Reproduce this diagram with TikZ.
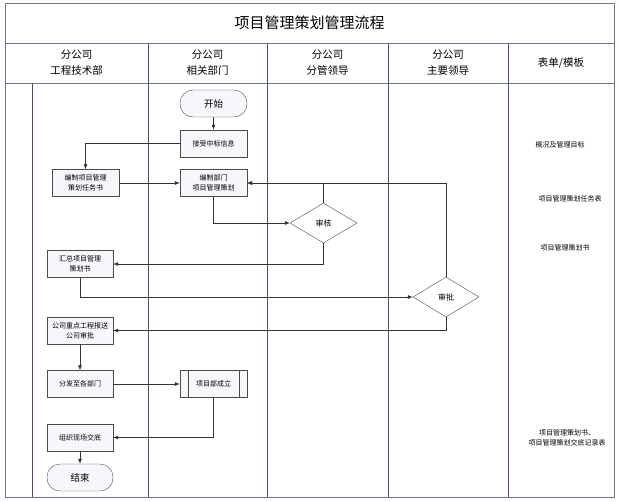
\documentclass[tikz,border=0pt]{standalone}
\usepackage{fontspec}
\setmainfont{Noto Sans CJK SC}
\usepackage{tikz}
\usetikzlibrary{arrows.meta, shapes.geometric}
\usepackage{xcolor}
\definecolor{framecol}{RGB}{110,118,150}
\definecolor{lanecol}{RGB}{70,80,120}
\definecolor{boxfill}{RGB}{246,247,251}

\begin{document}
\begin{tikzpicture}[
                x=1pt, y=-1pt,
                P/.style = {rectangle, draw=black!70, fill=boxfill, minimum width=67pt,
                            minimum height=27pt, inner sep=1pt, align=center, font=\fontsize{7}{10}\selectfont},
                T/.style = {P, rounded corners=13pt, font=\fontsize{9.5}{11}\selectfont},
                D/.style = {diamond, draw=black!70, fill=white, aspect=1.65, inner sep=0pt,
                            minimum width=67pt, minimum height=40pt, font=\fontsize{8}{10}\selectfont},
                F/.style = {font=\fontsize{7}{10}\selectfont, align=center},
                H/.style = {font=\fontsize{10.5}{16}\selectfont, align=center},
                flow/.style = {draw=black!80, line width=0.6pt, -{Latex[length=5pt,width=4pt]}}
                    ]
                \useasboundingbox (0,0) rectangle (620,501);
                % table
                \draw[framecol, line width=1pt] (5,3) rectangle (614,497);
                \draw[framecol, line width=0.8pt] (5,43) -- (614,43);
                \draw[framecol, line width=0.8pt] (5,83) -- (614,83);
                \foreach \x in {148,267,388,508}
                    \draw[lanecol, line width=0.6pt] (\x,43) -- (\x,497);
                \draw[lanecol, line width=0.6pt] (32,83) -- (32,497);
                \node[font=\fontsize{15}{18}\selectfont] (title) at (309.5,23) {项目管理策划管理流程};
                \node[H] (h1) at (76.5,63) {分公司\\工程技术部};
                \node[H] (h2) at (207.5,63) {分公司\\相关部门};
                \node[H] (h3) at (327.5,63) {分公司\\分管领导};
                \node[H] (h4) at (448,63) {分公司\\主要领导};
                \node[H] (h5) at (561,63) {表单/模板};
                % flow nodes
                \node[T] (start) at (213.5,103.5) {开始};
                \node[P] (recv) at (213.5,143.5) {接受中标信息};
                \node[P] (task) at (85.5,183) {编制项目管理\\策划任务书};
                \node[P] (plan) at (213.5,183) {编制部门\\项目管理策划};
                \node[D] (check) at (323.5,223) {审核};
                \node[P, minimum width=66pt] (sum) at (80,264) {汇总项目管理\\策划书};
                \node[D, minimum width=66pt] (appr) at (446,297) {审批};
                \node[P, minimum width=66pt] (report) at (80,330.5) {公司重点工程报送\\公司审批};
                \node[P, minimum width=66pt] (dist) at (80,384) {分发至各部门};
                \node[P] (setup) at (213.5,384) {项目部成立};
                \node[P, minimum width=66pt] (brief) at (80,437.5) {组织现场交底};
                \node[T, minimum width=66pt] (end) at (80,477.5) {结束};
                \draw[black!70] ([xshift=8pt]setup.north west) -- ([xshift=8pt]setup.south west);
                \draw[black!70] ([xshift=-8pt]setup.north east) -- ([xshift=-8pt]setup.south east);
                % forms
                \node[F] (f1) at (560,145) {概况及管理目标};
                \node[F] (f2) at (570,199) {项目管理策划任务表};
                \node[F] (f3) at (565,248) {项目管理策划书};
                \node[F] (f4) at (567,438) {项目管理策划书、\\项目管理策划交底记录表};
                % connectors
                \draw[flow] (start) -- (recv);
                \draw[flow] (recv.west) -| (task.north);
                \draw[flow] (task) -- (plan);
                \draw[flow] (plan.south) |- (check.west);
                \draw[flow] (check.north) |- (plan.east);
                \draw[flow] (appr.north) |- (plan.east);
                \draw[flow] (check.south) |- (sum.east);
                \draw[flow] (sum.south) |- (appr.west);
                \draw[flow] (appr.south) |- (report.east);
                \draw[flow] (report) -- (dist);
                \draw[flow] (dist) -- (setup);
                \draw[flow] (setup.south) |- (brief.east);
                \draw[flow] (brief) -- (end);
            \end{tikzpicture}
\end{document}
